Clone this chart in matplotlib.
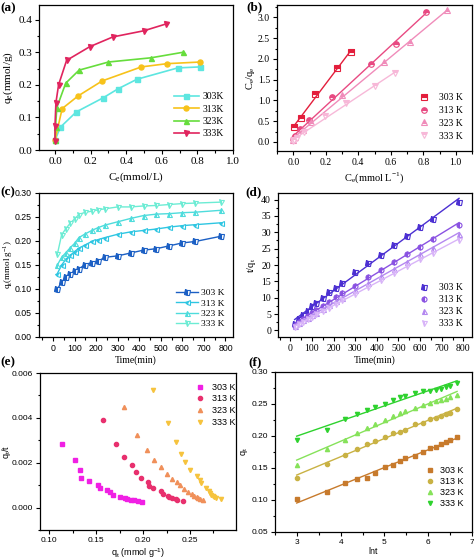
import numpy as np
import matplotlib
matplotlib.use("Agg")
import matplotlib.pyplot as plt
from matplotlib.ticker import MultipleLocator, AutoMinorLocator, FormatStrFormatter

SERIF = "Liberation Serif"
SANS = "Liberation Sans"

temps_a = ["303K", "313K", "323K", "333K"]
temps = ["303 K", "313 K", "323 K", "333 K"]

# ---- (a) isotherms ----
ce_a_303 = [0.0, 0.03, 0.12, 0.27, 0.355, 0.46, 0.69, 0.815]
qe_a_303 = [0.03, 0.07, 0.117, 0.16, 0.188, 0.217, 0.252, 0.255]
ce_a_313 = [0.0, 0.04, 0.13, 0.265, 0.485, 0.63, 0.815]
qe_a_313 = [0.03, 0.127, 0.166, 0.212, 0.255, 0.265, 0.27]
ce_a_323 = [0.0, 0.003, 0.01, 0.06, 0.135, 0.30, 0.54, 0.72]
qe_a_323 = [0.03, 0.07, 0.13, 0.205, 0.245, 0.27, 0.283, 0.30]
ce_a_333 = [0.0, 0.0, 0.005, 0.02, 0.065, 0.195, 0.325, 0.50, 0.625]
qe_a_333 = [0.028, 0.075, 0.145, 0.20, 0.275, 0.317, 0.347, 0.366, 0.387]

# ---- (b) Langmuir linear form ----
ce_b_303 = [0.005, 0.05, 0.135, 0.27, 0.355]
y_b_303 = [0.37, 0.57, 1.16, 1.77, 2.17]
ce_b_313 = [0.0, 0.01, 0.04, 0.095, 0.24, 0.48, 0.63, 0.815]
y_b_313 = [0.07, 0.15, 0.32, 0.53, 1.07, 1.87, 2.37, 3.12]
ce_b_323 = [0.0, 0.01, 0.06, 0.11, 0.30, 0.56, 0.72, 0.945]
y_b_323 = [0.05, 0.12, 0.29, 0.47, 1.12, 1.92, 2.41, 3.17]
ce_b_333 = [0.0, 0.005, 0.02, 0.065, 0.195, 0.325, 0.50, 0.625]
y_b_333 = [0.02, 0.05, 0.10, 0.23, 0.62, 0.94, 1.34, 1.65]

# ---- kinetics ----
time = [20, 40, 60, 80, 100, 120, 150, 180, 210, 240, 300, 360, 420, 480, 540, 600, 660, 780]

qt_c_303 = [0.100, 0.114, 0.125, 0.131, 0.137, 0.142, 0.151, 0.155, 0.158, 0.166, 0.169, 0.175, 0.181, 0.184, 0.190, 0.196, 0.199, 0.210]
qt_c_313 = [0.132, 0.150, 0.162, 0.170, 0.178, 0.185, 0.192, 0.199, 0.203, 0.207, 0.214, 0.219, 0.222, 0.225, 0.229, 0.232, 0.234, 0.238]
qt_c_323 = [0.150, 0.166, 0.176, 0.186, 0.195, 0.207, 0.215, 0.222, 0.228, 0.233, 0.240, 0.247, 0.253, 0.256, 0.257, 0.259, 0.260, 0.264]
qt_c_333 = [0.172, 0.213, 0.226, 0.237, 0.246, 0.255, 0.260, 0.262, 0.265, 0.267, 0.271, 0.271, 0.273, 0.274, 0.276, 0.278, 0.279, 0.281]

qt_303 = [0.101, 0.113, 0.127, 0.133, 0.134, 0.142, 0.152, 0.154, 0.161, 0.165, 0.168, 0.175, 0.181, 0.183, 0.187, 0.190, 0.194, 0.199]
qt_313 = [0.134, 0.157, 0.171, 0.180, 0.188, 0.192, 0.198, 0.205, 0.206, 0.210, 0.219, 0.221, 0.226, 0.228, 0.231, 0.235, 0.236, 0.242]
qt_323 = [0.155, 0.180, 0.193, 0.204, 0.212, 0.219, 0.225, 0.231, 0.236, 0.239, 0.244, 0.248, 0.252, 0.254, 0.257, 0.258, 0.261, 0.264]
qt_333 = [0.193, 0.210, 0.227, 0.235, 0.240, 0.245, 0.250, 0.257, 0.261, 0.262, 0.267, 0.270, 0.271, 0.272, 0.274, 0.276, 0.278, 0.283]

fig = plt.figure(figsize=(4.74, 5.60), dpi=100)
W, H = 474.0, 560.0


def add_ax(l, t, r, b):
    return fig.add_axes([l / W, (H - b) / H, (r - l) / W, (b - t) / H])


def style(ax, fam, fs):
    ax.tick_params(which="both", direction="out", labelsize=fs, width=0.8, pad=2)
    ax.tick_params(which="major", length=3)
    ax.tick_params(which="minor", length=1.8)
    for lab in ax.get_xticklabels() + ax.get_yticklabels():
        lab.set_family(fam)
    for s in ax.spines.values():
        s.set_linewidth(0.9)


def place_labels(ax, l, t, r, b, ylab_right, xlab_top):
    # ylab_right: pixel x of the y-label's right edge; xlab_top: pixel y of x-label top
    ax.yaxis.set_label_coords((ylab_right - l) / (r - l), 0.5)
    ax.xaxis.set_label_coords(0.5, -(xlab_top - b) / (b - t))


# ---------------- (a) ----------------
box = (39, 5, 233, 150)
ax = add_ax(*box)
cols_a = ["#5de6e0", "#f7c21a", "#66dd3c", "#e0245e"]
mk_a = ["s", "o", "^", "v"]
data_a = [(ce_a_303, qe_a_303), (ce_a_313, qe_a_313), (ce_a_323, qe_a_323), (ce_a_333, qe_a_333)]
for (x, y), c, m, lab in zip(data_a, cols_a, mk_a, temps_a):
    ax.plot(x, y, color=c, marker=m, ms=3.6, lw=1.2, label=lab)
ax.set_xlim(-0.09, 1.0)
ax.set_ylim(0, 0.445)
ax.xaxis.set_major_locator(MultipleLocator(0.2))
ax.yaxis.set_major_locator(MultipleLocator(0.1))
ax.xaxis.set_major_formatter(FormatStrFormatter("%.1f"))
ax.yaxis.set_major_formatter(FormatStrFormatter("%.1f"))
ax.xaxis.set_minor_locator(AutoMinorLocator(2))
ax.yaxis.set_minor_locator(AutoMinorLocator(2))
style(ax, SERIF, 8)
ax.set_xlabel("C$_\\mathregular{e}$(mmol/L)", family=SERIF, fontsize=8)
ax.set_ylabel("q$_\\mathregular{e}$(mmol/g)", family=SERIF, fontsize=8)
place_labels(ax, *box, 15, 170)
ax.legend(loc="lower right", bbox_to_anchor=(1.0, 0.02), frameon=False,
          prop={"family": SERIF, "size": 7}, handlelength=2.6, labelspacing=0.35,
          handletextpad=0.4)
fig.text(0.0 / W, 1 - 2 / H, "(a)", family=SERIF, fontsize=9.5, fontweight="bold", va="top")

# ---------------- (b) ----------------
box = (277, 5, 472, 151)
ax = add_ax(*box)
cols_b = ["#e31e3c", "#e84a82", "#f08cba", "#f7b8d8"]
mk_b = ["s", "o", "^", "v"]
data_b = [(ce_b_303, y_b_303), (ce_b_313, y_b_313), (ce_b_323, y_b_323), (ce_b_333, y_b_333)]
for (x, y), c, m, lab in zip(data_b, cols_b, mk_b, temps):
    ax.plot(x, y, ls="none", marker=m, ms=4, color=c, fillstyle="top",
            markerfacecoloralt="white", mew=0.8, label=lab)
    p = np.polyfit(x, y, 1)
    xx = np.array([min(x), max(x)])
    ax.plot(xx, np.polyval(p, xx), color=c, lw=1.0)
ax.set_xlim(-0.1, 1.1)
ax.set_ylim(-0.22, 3.3)
ax.xaxis.set_major_locator(MultipleLocator(0.2))
ax.yaxis.set_major_locator(MultipleLocator(0.5))
ax.xaxis.set_major_formatter(FormatStrFormatter("%.1f"))
ax.yaxis.set_major_formatter(FormatStrFormatter("%.1f"))
ax.xaxis.set_minor_locator(AutoMinorLocator(2))
ax.yaxis.set_minor_locator(AutoMinorLocator(2))
style(ax, SERIF, 7)
ax.set_xlabel("C$_\\mathregular{e}$(mmol L$^\\mathregular{-1}$)", family=SERIF, fontsize=7.5)
ax.set_ylabel("C$_\\mathregular{e}$/q$_\\mathregular{e}$", family=SERIF, fontsize=7.5)
place_labels(ax, *box, 257, 170)
ax.legend(loc="lower right", bbox_to_anchor=(1.0, 0.01), frameon=False,
          prop={"family": SERIF, "size": 7}, handlelength=1.0, labelspacing=0.4,
          handletextpad=1.1)
fig.text(246 / W, 1 - 1 / H, "(b)", family=SERIF, fontsize=9.5, fontweight="bold", va="top")

# ---------------- (c) ----------------
box = (39, 193, 233, 337)
ax = add_ax(*box)
cols_c = ["#1b5fc4", "#2ec6e2", "#4edcdc", "#6cecd4"]
mk_c = ["s", "<", "^", "v"]
data_c = [qt_c_303, qt_c_313, qt_c_323, qt_c_333]
for y, c, m, lab in zip(data_c, cols_c, mk_c, temps):
    ax.plot(time, y, color=c, marker=m, ms=3.6, lw=1.0, fillstyle="left",
            markerfacecoloralt="white", mew=0.8, label=lab)
ax.set_xlim(-65, 835)
ax.set_ylim(0, 0.30)
ax.xaxis.set_major_locator(MultipleLocator(100))
ax.yaxis.set_major_locator(MultipleLocator(0.05))
ax.yaxis.set_major_formatter(FormatStrFormatter("%.2f"))
ax.xaxis.set_minor_locator(AutoMinorLocator(2))
ax.yaxis.set_minor_locator(AutoMinorLocator(2))
style(ax, SANS, 6.3)
ax.set_xlabel("Time(min)", family=SERIF, fontsize=7)
ax.set_ylabel("q$_\\mathregular{t}$(mmol g$^\\mathregular{-1}$)", family=SERIF, fontsize=6.5)
place_labels(ax, *box, 15, 355)
ax.legend(loc="lower right", bbox_to_anchor=(1.0, 0.0), frameon=False,
          prop={"family": SERIF, "size": 6.8}, handlelength=2.4, labelspacing=0.2,
          handletextpad=0.3)
fig.text(0.0 / W, 1 - 186 / H, "(c)", family=SERIF, fontsize=9.5, fontweight="bold", va="top")

# ---------------- (d) ----------------
box = (278, 193, 472, 337)
ax = add_ax(*box)
cols_d = ["#4b2fd2", "#8a52e2", "#b488f0", "#d8b4f8"]
mk_d = ["s", "o", "^", "v"]
data_d = [qt_303, qt_313, qt_323, qt_333]
t_arr = np.array(time, dtype=float)
for y, c, m, lab in zip(data_d, cols_d, mk_d, temps):
    tq = t_arr / (np.array(y) * 100.0)
    ax.plot(t_arr, tq, ls="none", marker=m, ms=3.6, color=c, fillstyle="left",
            markerfacecoloralt="white", mew=0.8, label=lab)
    p = np.polyfit(t_arr, tq, 1)
    xx = np.array([t_arr.min(), t_arr.max()])
    ax.plot(xx, np.polyval(p, xx), color=c, lw=1.0)
ax.set_xlim(-57, 840)
ax.set_ylim(-2, 42)
ax.xaxis.set_major_locator(MultipleLocator(100))
ax.yaxis.set_major_locator(MultipleLocator(5))
ax.xaxis.set_minor_locator(AutoMinorLocator(2))
ax.yaxis.set_minor_locator(AutoMinorLocator(2))
style(ax, SERIF, 7)
ax.set_xlabel("Time(min)", family=SERIF, fontsize=7)
ax.set_ylabel("t/q$_\\mathregular{t}$", family=SERIF, fontsize=7.5)
place_labels(ax, *box, 258, 355)
ax.legend(loc="lower right", bbox_to_anchor=(1.0, 0.0), frameon=False,
          prop={"family": SERIF, "size": 7}, handlelength=1.0, labelspacing=0.3,
          handletextpad=1.1)
fig.text(245 / W, 1 - 186 / H, "(d)", family=SERIF, fontsize=9.5, fontweight="bold", va="top")

# ---------------- (e) ----------------
box = (40, 373, 236, 530)
ax = add_ax(*box)
cols_e = ["#f020e4", "#e8306e", "#f0905a", "#f6c33e"]
mk_e = ["s", "o", "^", "v"]
for y, c, m, lab in zip(data_d, cols_e, mk_e, temps):
    q = np.array(y)[1:]
    ax.plot(q, q / t_arr[1:], ls="none", marker=m, ms=3.0, color=c, label=lab)
ax.set_xlim(0.09, 0.299)
ax.set_ylim(-0.001, 0.006)
ax.xaxis.set_major_locator(MultipleLocator(0.05))
ax.yaxis.set_major_locator(MultipleLocator(0.002))
ax.xaxis.set_major_formatter(FormatStrFormatter("%.2f"))
ax.yaxis.set_major_formatter(FormatStrFormatter("%.3f"))
ax.xaxis.set_minor_locator(AutoMinorLocator(2))
ax.yaxis.set_minor_locator(AutoMinorLocator(2))
style(ax, SANS, 6)
ax.set_xlabel("q$_\\mathregular{t}$ (mmol g$^\\mathregular{-1}$)", family=SANS, fontsize=6.5)
ax.set_ylabel("q$_\\mathregular{t}$/t", family=SANS, fontsize=6.5)
place_labels(ax, *box, 13, 546)
ax.legend(loc="upper right", bbox_to_anchor=(1.04, 0.99), frameon=False,
          prop={"family": SANS, "size": 6.5}, handlelength=1.0, labelspacing=0.3,
          handletextpad=0.8)
fig.text(0.0 / W, 1 - 356 / H, "(e)", family=SERIF, fontsize=9.5, fontweight="bold", va="top")

# ---------------- (f) ----------------
box = (275, 372, 472, 532)
ax = add_ax(*box)
cols_f = ["#c77a2c", "#c9b244", "#86e25a", "#2ed22e"]
mk_f = ["s", "o", "^", "v"]
lnt = np.log(t_arr)
for y, c, m, lab in zip(data_d, cols_f, mk_f, temps):
    ax.plot(lnt, y, ls="none", marker=m, ms=3.0, color=c, label=lab)
    p = np.polyfit(lnt, y, 1)
    xx = np.array([lnt.min(), lnt.max()])
    ax.plot(xx, np.polyval(p, xx), color=c, lw=1.0)
ax.set_xlim(2.5, 7.0)
ax.set_ylim(0.05, 0.30)
ax.xaxis.set_major_locator(MultipleLocator(1))
ax.yaxis.set_major_locator(MultipleLocator(0.05))
ax.yaxis.set_major_formatter(FormatStrFormatter("%.2f"))
ax.xaxis.set_minor_locator(AutoMinorLocator(2))
ax.yaxis.set_minor_locator(AutoMinorLocator(2))
style(ax, SANS, 6)
ax.set_xlabel("lnt", family=SANS, fontsize=6.5)
ax.set_ylabel("q$_\\mathregular{t}$", family=SANS, fontsize=6.5)
place_labels(ax, *box, 250, 547)
ax.legend(loc="lower right", bbox_to_anchor=(1.0, 0.1), frameon=False,
          prop={"family": SANS, "size": 6.5}, handlelength=1.0, labelspacing=0.2,
          handletextpad=0.6)
fig.text(248 / W, 1 - 356 / H, "(f)", family=SERIF, fontsize=9.5, fontweight="bold", va="top")

fig.savefig("out.png", dpi=100)
